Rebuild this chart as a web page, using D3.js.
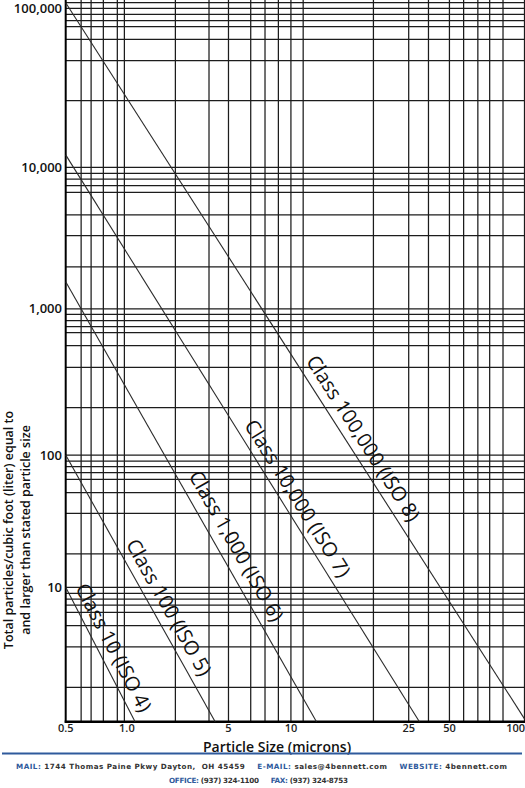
<!DOCTYPE html>
<html><head><meta charset="utf-8">
<script src="https://cdn.jsdelivr.net/npm/d3@7"></script>
<style>html,body{margin:0;padding:0;background:#fff;} svg{display:block;}</style>
</head><body><svg id="c" width="525" height="788"></svg>
<script>
// ---------- data ----------
const xTicks = [0.5, 1, 5, 10, 25, 50, 100];
const xTickLabels = ["0.5", "1.0", "5", "10", "25", "50", "100"];
const xGrid = [0.6, 0.675, 0.78, 0.92, 1, 2.2, 3.7, 5, 6.4, 7.5, 8.7, 10, 11, 19, 25, 35, 50, 57, 65, 72.5, 82, 100];
const yTicks = [1, 10, 100, 1000, 10000, 100000];
const yTickLabels = ["", "10", "100", "1,000", "10,000", "100,000"];
const yGrid = [100000, 92500, 85000, 77700, 71500, 59900, 44400, 25400,
  10000, 9070, 8230, 7410, 6660, 4600, 3290, 1980,
  1000, 917, 829, 754, 686, 559, 398, 211,
  100, 90.1, 81.6, 73.5, 65.5, 51.9, 36.2, 17.9,
  10, 9.02, 8.18, 7.38, 6.52, 5.18, 3.61, 1.80];
const classNames = ["Class 10 (ISO 4)", "Class 100 (ISO 5)", "Class 1,000 (ISO 6)", "Class 10,000 (ISO 7)", "Class 100,000 (ISO 8)"];
const classStartSize = [0.5, 0.5, 0.5, 0.5, 0.5];
const classStartCount = [10, 100, 1550, 11900, 100000];
const classEndSize = [1.18, 4.07, 12.2, 30, 100];
const classEndCount = [1, 1, 1, 1, 1.05];
const xTitle = "Particle Size (microns)";
const yTitle = ["Total particles/cubic foot (liter) equal to", "and larger than stated particle size"];

(function () {
// ---------- layout ----------
const svg = d3.select("#c");
const pL = 65.7, pR = 524.5, pT = 2.7, pB = 721.7;
const W = pR - pL, H = pB - pT;
// relative placement of labelled ticks along each axis (the chart's own uneven log spacing)
const xKnotFrac = [0, 0.1279, 0.3548, 0.4909, 0.7476, 0.8364, 1];
const yKnotFrac = [0, 0.1869, 0.3709, 0.5743, 0.7711, 1];
const xs = d3.scaleLinear().domain(xTicks.map(Math.log10)).range(xKnotFrac.map(f => pL + f * W));
const ys = d3.scaleLinear().domain(yTicks.map(Math.log10)).range(yKnotFrac.map(f => pB - f * H));
const x = v => xs(Math.log10(v));
const y = v => ys(Math.log10(v));

// label placement (fraction along line, baseline offset)
const labelT = [0.5, 0.6, 0.62, 0.62, 0.62];
const labelOff = [8, 8.5, 10.5, 8, 8.5];

const g = svg.append("g");
g.selectAll("line.h").data(yGrid).join("line")
  .attr("x1", pL).attr("x2", 525)
  .attr("y1", d => y(d)).attr("y2", d => y(d))
  .attr("stroke", "#1c1c1c").attr("stroke-width", 1.25);
g.selectAll("line.v").data(xGrid).join("line")
  .attr("x1", d => x(d)).attr("x2", d => x(d))
  .attr("y1", 0).attr("y2", pB)
  .attr("stroke", "#1c1c1c").attr("stroke-width", 1.25);

g.append("line").attr("x1", pL).attr("x2", pL).attr("y1", 0).attr("y2", pB + 1)
  .attr("stroke", "#000").attr("stroke-width", 2);
g.append("line").attr("x1", pL - 1).attr("x2", 525).attr("y1", pB).attr("y2", pB)
  .attr("stroke", "#000").attr("stroke-width", 2.4);

const classes = classNames.map((n, i) => ({
  name: n,
  p0: [x(classStartSize[i]), y(classStartCount[i])],
  p1: [x(classEndSize[i]), y(classEndCount[i])],
  t: labelT[i], off: labelOff[i]
}));
g.selectAll("line.cls").data(classes).join("line")
  .attr("x1", d => d.p0[0]).attr("y1", d => d.p0[1])
  .attr("x2", d => d.p1[0]).attr("y2", d => d.p1[1])
  .attr("stroke", "#2a2a2a").attr("stroke-width", 1.1);

g.selectAll("text.cls").data(classes).join("text")
  .attr("transform", d => {
    const px = d.p0[0] + d.t * (d.p1[0] - d.p0[0]);
    const py = d.p0[1] + d.t * (d.p1[1] - d.p0[1]);
    const a = Math.atan2(d.p1[1] - d.p0[1], d.p1[0] - d.p0[0]) * 180 / Math.PI;
    return `translate(${px},${py}) rotate(${a})`;
  })
  .attr("y", d => -d.off)
  .attr("text-anchor", "middle")
  .attr("font-family", "'Open Sans', sans-serif")
  .attr("font-size", 20)
  .attr("fill", "#111")
  .text(d => d.name);

svg.selectAll("text.yt").data(yTicks.map((v, i) => ({v, l: yTickLabels[i]})).filter(d => d.l)).join("text")
  .attr("x", 62)
  .attr("y", d => Math.max(y(d.v), 8.5))
  .attr("dy", "0.35em")
  .attr("text-anchor", "end")
  .attr("font-family", "'Open Sans', sans-serif")
  .attr("font-weight", 600)
  .attr("font-size", 13)
  .attr("fill", "#111")
  .text(d => d.l);

svg.selectAll("text.xt").data(xTicks.map((v, i) => ({v, l: xTickLabels[i], last: i === xTicks.length - 1}))).join("text")
  .attr("x", d => d.last ? 525 : x(d.v) + (d.v === 1 ? 2.5 : 0))
  .attr("y", 732)
  .attr("text-anchor", d => d.last ? "end" : "middle")
  .attr("font-family", "'Open Sans', sans-serif")
  .attr("font-weight", 600)
  .attr("font-size", 11)
  .attr("fill", "#222")
  .text(d => d.l);

svg.append("text").attr("x", 277).attr("y", 751.5)
  .attr("text-anchor", "middle")
  .attr("font-family", "'Open Sans', sans-serif")
  .attr("font-weight", 600)
  .attr("font-size", 14)
  .attr("fill", "#111")
  .text(xTitle);

svg.selectAll("text.yl").data(yTitle).join("text")
  .attr("transform", (d, i) => `translate(${i === 0 ? 13 : 30},530) rotate(-90)`)
  .attr("text-anchor", "middle")
  .attr("font-family", "'Open Sans', sans-serif")
  .attr("font-weight", 600)
  .attr("font-size", 12.5)
  .attr("fill", "#111")
  .text(d => d);

svg.append("line").attr("x1", 2).attr("x2", 522).attr("y1", 753.5).attr("y2", 753.5)
  .attr("stroke", "#2f5a9c").attr("stroke-width", 2);

const footer = [
  [["MAIL: ", true], ["1744 Thomas Paine Pkwy Dayton,  OH 45459", false], ["E-MAIL: ", true], ["sales@4bennett.com", false], ["WEBSITE: ", true], ["4bennett.com", false]],
  [["OFFICE: ", true], ["(937) 324-1100", false], ["FAX: ", true], ["(937) 324-8753", false]]
];
const footerWidth = [491, 179];
footer.forEach((line, li) => {
  const t = svg.append("text")
    .attr("x", li === 0 ? 16 : 169).attr("y", li === 0 ? 769 : 783)
    .attr("font-family", "'DejaVu Sans', sans-serif")
    .attr("font-weight", "bold")
    .attr("font-size", 7.2)
    .attr("textLength", footerWidth[li])
    .attr("lengthAdjust", "spacing")
    .attr("xml:space", "preserve");
  line.forEach((s, si) => {
    t.append("tspan")
      .attr("dx", s[1] && si > 0 ? 12 : 0)
      .attr("fill", s[1] ? "#2f5a9c" : "#333")
      .text(s[0]);
  });
});
})();
</script></body></html>
